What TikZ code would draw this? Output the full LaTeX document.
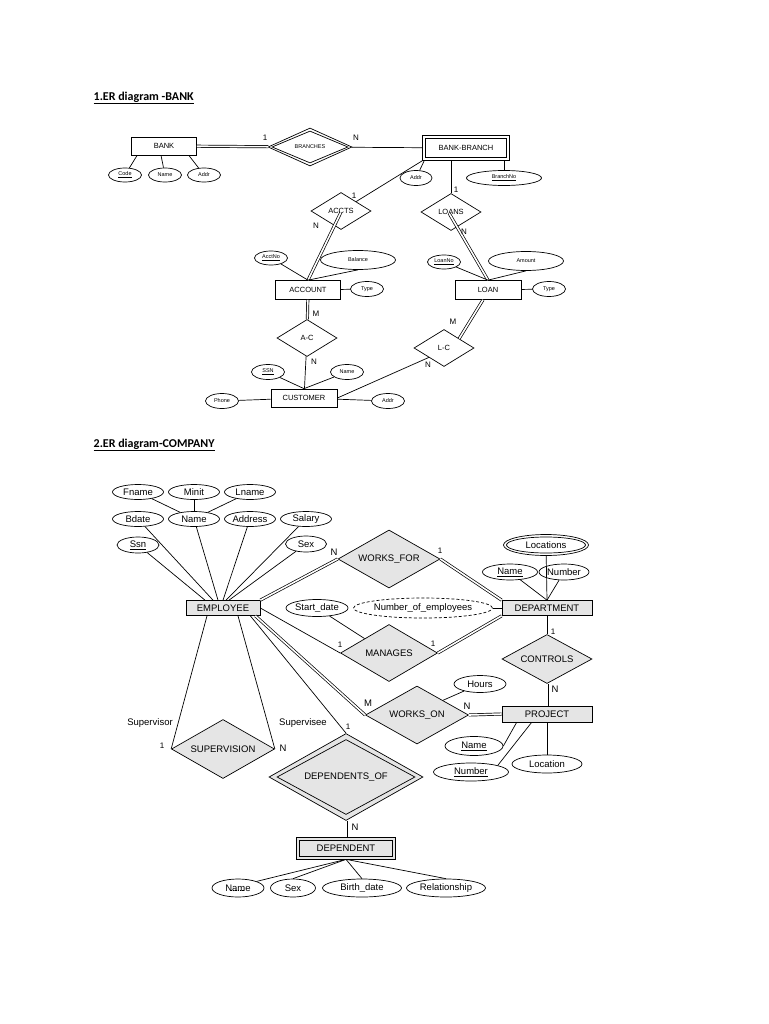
\documentclass[tikz,border=0pt]{standalone}
\usepackage{fontspec}
\setmainfont{Liberation Sans}
\newfontfamily\titlefont{Carlito}
\usetikzlibrary{shapes.geometric,calc}
\begin{document}
\begin{tikzpicture}[x=1pt,y=-1pt,line width=0.7pt,
 ent/.style={draw,rectangle,inner sep=0,minimum width=#1},
 rel/.style={draw,diamond,inner sep=0,aspect=1.6},
 att/.style={draw,ellipse,inner sep=0,minimum height=15},
 bsm/.style={font=\fontsize{5.5}{6}\selectfont},
 bmd/.style={font=\fontsize{7.5}{8}\selectfont},
 csm/.style={font=\fontsize{9.5}{10}\selectfont},
 gfill/.style={fill=black!10},
 dbl/.style={double=white,double distance=1.6pt},
 lab/.style={inner sep=0,font=\fontsize{8}{9}\selectfont}]
\useasboundingbox (0,0) rectangle (768,1024);
\fill[white] (0,0) rectangle (768,1024);
\node[anchor=west,font=\titlefont\bfseries\fontsize{12}{14}\selectfont] (t1) at (90,98) {\underline{1.ER diagram -BANK}};
\node[anchor=west,font=\titlefont\bfseries\fontsize{12}{14}\selectfont] (t2) at (90,445) {\underline{2.ER diagram-COMPANY}};
% ---------- BANK ----------
\node[ent=65,minimum height=18,bmd] (bank) at (164,146) {BANK};
\node[rel,minimum width=84,minimum height=38,bmd] (branches) at (310,147) {};
\node[rel,minimum width=76,minimum height=32,bsm] (branchesi) at (310,147) {BRANCHES};
\node[ent=87,minimum height=25,bmd] (bb) at (466,148) {};
\node[ent=81,minimum height=19,bmd] (bbi) at (466,148) {BANK-BRANCH};
\node[att,minimum width=33,minimum height=14,bsm] (code) at (125,175) {\underline{Code}};
\node[att,minimum width=33,minimum height=14,bsm] (bname) at (165,175) {Name};
\node[att,minimum width=33,minimum height=14,bsm] (baddr) at (204,175) {Addr};
\node[att,minimum width=32,minimum height=15,bsm] (bbaddr) at (416,178) {Addr};
\node[att,minimum width=75,minimum height=15,bsm] (bno) at (504,178) {\underline{BranchNo}};
\node[rel,minimum width=60,minimum height=37,bmd] (accts) at (341,211) {ACCTS};
\node[rel,minimum width=60,minimum height=37,bmd] (loans) at (451,212) {LOANS};
\node[att,minimum width=33,minimum height=14,bsm] (acctno) at (271,258) {\underline{AcctNo}};
\node[att,minimum width=75,minimum height=19,bsm] (bal) at (358,260) {Balance};
\node[ent=65,minimum height=19,bmd] (account) at (308,290) {ACCOUNT};
\node[att,minimum width=33,minimum height=15,bsm] (atype) at (367,289) {Type};
\node[att,minimum width=33,minimum height=14,bsm] (loanno) at (444,262) {\underline{LoanNo}};
\node[att,minimum width=75,minimum height=19,bsm] (amount) at (526,261) {Amount};
\node[ent=66,minimum height=19,bmd] (loan) at (488,290) {LOAN};
\node[att,minimum width=33,minimum height=15,bsm] (ltype) at (549,289) {Type};
\node[rel,minimum width=60,minimum height=37,bmd] (ac) at (307,338) {A-C};
\node[rel,minimum width=60,minimum height=37,bmd] (lc) at (444,348) {L-C};
\node[att,minimum width=33,minimum height=15,bsm] (ssn) at (268,372) {\underline{SSN}};
\node[att,minimum width=33,minimum height=15,bsm] (cname) at (347,372) {Name};
\node[ent=66,minimum height=18,bmd] (cust) at (304,398) {CUSTOMER};
\node[att,minimum width=33,minimum height=15,bsm] (phone) at (222,401) {Phone};
\node[att,minimum width=33,minimum height=15,bsm] (caddr) at (388,401) {Addr};
\draw[dbl] (bank) -- (branches);
\draw (branches) -- (bb);
\draw (bank.south west)++(6,0) -- (code);
\draw (bank.south) ++(-3,0) -- (bname);
\draw (bank.south east)++(-8,0) -- (baddr);
\draw (bb.south west)++(2,0) -- (bbaddr);
\draw (bno.north |- bb.south) -- (bno.north);
\draw (bb.south west) -- (accts.north east);
\draw (loans.north |- bb.south) -- (loans.north);
\draw[dbl] (accts.south west)++(15,-8) -- (account.north);
\draw[dbl] (loans.south east)++(-17,-8) -- (loan.north);
\draw (acctno) -- (account.north);
\draw (bal.south) -- (account.north);
\draw (account) -- (atype);
\draw (loanno) -- (loan.north);
\draw (amount.south) -- (loan.north);
\draw (loan) -- (ltype);
\draw[dbl] (account) -- (ac);
\draw (ac) -- (cust);
\draw[dbl] (loan.south) ++(-5,0) -- (lc.north east);
\draw (lc.south west) -- (cust.east);
\draw (ssn) -- (cust.north);
\draw (cname) -- (cust.north);
\draw (phone) -- (cust);
\draw (cust) -- (caddr);
\node[lab] at (265,138) {1};
\node[lab] at (356,138) {N};
\node[lab] at (354,196) {1};
\node[lab] at (316,226) {N};
\node[lab] at (456,190) {1};
\node[lab] at (464,232) {N};
\node[lab] at (316,314) {M};
\node[lab] at (314,362) {N};
\node[lab] at (453,322) {M};
\node[lab] at (428,365) {N};
% ---------- COMPANY ----------
\node[att,minimum width=51,minimum height=15,csm] (fname) at (138,492) {Fname};
\node[att,minimum width=51,minimum height=15,csm] (minit) at (194,492) {Minit};
\node[att,minimum width=51,minimum height=15,csm] (lname) at (250,492) {Lname};
\node[att,minimum width=51,minimum height=15,csm] (bdate) at (138,519) {Bdate};
\node[att,minimum width=51,minimum height=15,csm] (ename) at (194,519) {Name};
\node[att,minimum width=51,minimum height=15,csm] (addr) at (250,519) {Address};
\node[att,minimum width=51,minimum height=15,csm] (sal) at (306,519) {Salary};
\node[att,minimum width=42,minimum height=16,csm] (essn) at (138,545) {\underline{Ssn}};
\node[att,minimum width=41,minimum height=16,csm] (esex) at (306,544) {Sex};
\node[ent=74,minimum height=15,gfill,csm] (emp) at (223,608) {EMPLOYEE};
\node[rel,minimum width=102,minimum height=58,gfill,csm] (wf) at (389,559) {WORKS\_FOR};
\node[ent=90,minimum height=15,gfill,csm] (dept) at (547,608) {DEPARTMENT};
\node[att,minimum width=85,minimum height=21,csm] (locs) at (546,545) {};
\node[att,minimum width=79,minimum height=16,csm] (locsi) at (546,545) {Locations};
\node[att,minimum width=55,minimum height=16,csm] (dname) at (510,572) {\underline{Name}};
\node[att,minimum width=50,minimum height=16,csm] (dnum) at (564,572) {Number};
\node[att,minimum width=56,minimum height=17,csm] (sd) at (317,608) {Start\_date};
\node[att,minimum width=120,minimum height=20,densely dashed,csm] (noe) at (423,608) {Number\_of\_employees};
\node[rel,minimum width=97,minimum height=57,gfill,csm] (man) at (389,653) {MANAGES};
\node[rel,minimum width=90,minimum height=49,gfill,csm] (ctrl) at (547,659) {CONTROLS};
\node[att,minimum width=52,minimum height=17,csm] (hours) at (480,684) {Hours};
\node[rel,minimum width=103,minimum height=58,gfill,csm] (wo) at (417,715) {WORKS\_ON};
\node[ent=90,minimum height=16,gfill,csm] (proj) at (547,714) {PROJECT};
\node[att,minimum width=58,minimum height=19,csm] (pname) at (474,746) {\underline{Name}};
\node[att,minimum width=75,minimum height=18,csm] (pnum) at (471,772) {\underline{Number}};
\node[att,minimum width=70,minimum height=18,csm] (ploc) at (547,764) {Location};
\node[rel,minimum width=103,minimum height=59,gfill,csm] (sup) at (223,749) {SUPERVISION};
\node[rel,minimum width=154,minimum height=87,gfill,csm] (dof) at (346,777) {};
\node[rel,minimum width=138,minimum height=75,gfill,csm] (dofi) at (346,777) {DEPENDENTS\_OF};
\node[ent=99,minimum height=22,gfill,csm] (dep) at (346,848) {};
\node[ent=93,minimum height=16,gfill,csm] (depi) at (346,848) {DEPENDENT};
\node[att,minimum width=52,minimum height=18,csm] (depn) at (238,888) {Name};
\node[att,minimum width=45,minimum height=18,csm] (deps) at (293,888) {Sex};
\node[att,minimum width=79,minimum height=18,csm] (depb) at (362,888) {Birth\_date};
\node[att,minimum width=79,minimum height=18,csm] (depr) at (446,888) {Relationship};
\draw[densely dotted] ($(depn.south west)+(12,-4)$) -- ($(depn.south east)+(-12,-4)$);
\draw (fname) -- (ename);
\draw (minit) -- (ename);
\draw (lname) -- (ename);
\foreach \a/\dx in {essn/-18,bdate/-10,ename/-5,addr/0,sal/3,esex/6} \draw (\a) -- ($(emp.north)+(\dx,0)$);
\draw[dbl] (emp.north east) -- (wf.west);
\draw[dbl] (wf.east) -- (dept.north west);
\draw (emp.east) -- (man.west);
\draw[dbl] (man.east) -- (dept.south west);
\draw (sd) -- (man.north west);
\draw (noe) -- (dept);
\draw (dname) -- (dept.north);
\draw (locs) -- (dept.north);
\draw (dnum) -- (dept.north);
\draw (dept) -- (ctrl);
\draw[dbl] (ctrl) -- (proj);
\draw[dbl] ($(emp.south east)+(-5,0)$) -- (wo.west);
\draw[dbl] (wo.east) -- (proj.west);
\draw (hours) -- (wo.north east);
\draw (pname.east) -- ($(proj.south west)+(15,0)$);
\draw (pnum.north east) -- ($(proj.south west)+(30,0)$);
\draw (ploc) -- (proj.south);
\draw ($(emp.south)+(-16,0)$) -- (sup.west);
\draw ($(emp.south)+(15,0)$) -- (sup.east);
\draw ($(emp.south east)+(-10,0)$) -- (dof.north);
\draw[dbl] (dof.south) -- (dep.north);
\draw (dep.south) -- (depn.north east);
\draw (dep.south) -- (deps.north);
\draw (dep.south) -- (depb.north);
\draw (dep.south) -- (depr.north);
\node[lab,csm] at (334,552) {N};
\node[lab] at (440,551) {1};
\node[lab] at (340,645) {1};
\node[lab] at (433,644) {1};
\node[lab] at (553,632) {1};
\node[lab,csm] at (555,689) {N};
\node[lab,csm] at (368,703) {M};
\node[lab,csm] at (467,706) {N};
\node[lab,csm] at (150,723) {Supervisor};
\node[lab,csm] at (303,723) {Supervisee};
\node[lab] at (162,746) {1};
\node[lab,csm] at (283,748) {N};
\node[lab] at (348,727) {1};
\node[lab,csm] at (355,827) {N};
\end{tikzpicture}
\end{document}
